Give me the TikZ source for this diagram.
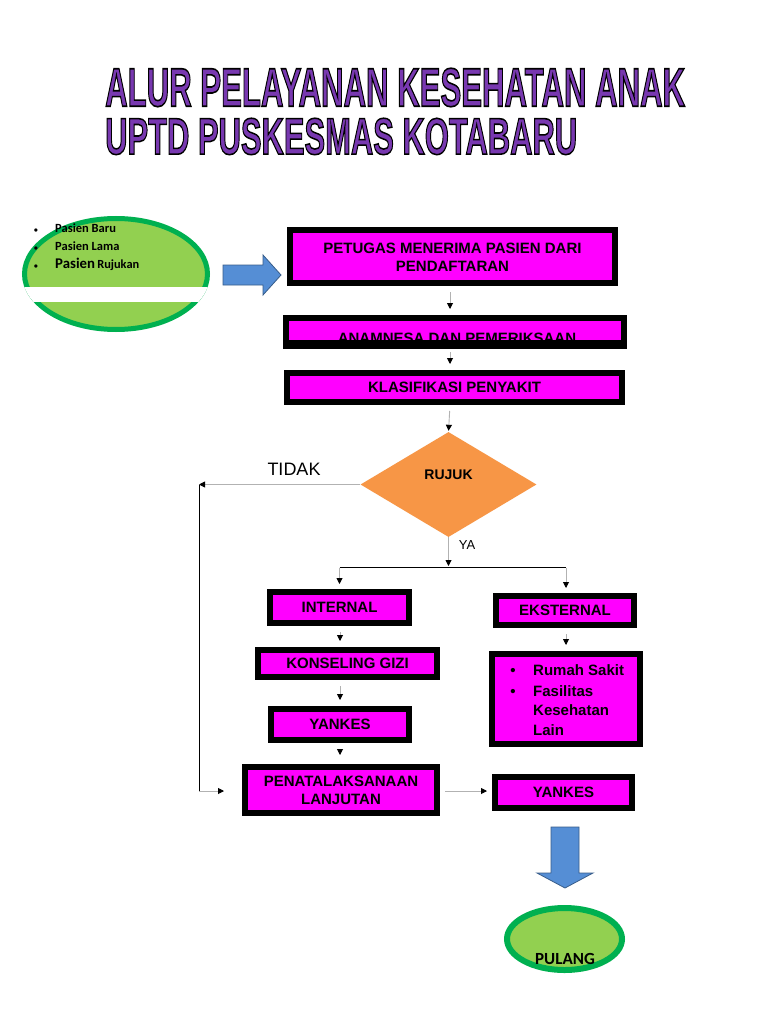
\documentclass[tikz,border=0pt]{standalone}
\usepackage{fontspec}
\setmainfont{Liberation Sans}
\newfontfamily\calib{Carlito}
\newfontfamily\ttlfont[FakeBold=3]{Liberation Sans}
\usetikzlibrary{arrows.meta,shapes.geometric}
\definecolor{mag}{RGB}{255,0,255}
\definecolor{ttl}{RGB}{120,56,176}
\definecolor{lgreen}{RGB}{146,208,80}
\definecolor{dgreen}{RGB}{0,176,80}
\definecolor{blu}{RGB}{85,142,213}
\definecolor{bludark}{RGB}{56,93,138}
\definecolor{orng}{RGB}{247,150,70}
\newcommand\blackstroke{\special{pdf:literal direct 0 0 0 RG}}
\begin{document}
\begin{tikzpicture}[x=1pt,y=-1pt,
  box/.style={draw=black,line width=6pt,fill=mag,inner sep=0pt,align=center,
    font=\bfseries\fontsize{15}{18}\selectfont},
  conn/.style={draw=gray!60,line width=0.9pt,-{Triangle[length=6pt,width=6pt,color=black]}},
  bline/.style={draw=black,line width=1pt},
  lbl/.style={inner sep=0pt},
  bigarrow/.style={fill=blu,draw=bludark,line width=0.8pt},
  oval/.style={ellipse,draw=dgreen,fill=lgreen,inner sep=0pt},
]
\useasboundingbox (0,0) rectangle (768,1024);
\fill[white] (0,0) rectangle (768,1024);

% ---- title (purple fill, black stroke)
\node[lbl,anchor=north west,text=ttl] (t1) at (105,68)
  {\resizebox{580pt}{38pt}{\blackstroke\ttlfont\bfseries ALUR PELAYANAN KESEHATAN ANAK}};
\node[lbl,anchor=north west,text=ttl] (t2) at (105,118)
  {\resizebox{472pt}{36pt}{\blackstroke\ttlfont\bfseries UPTD PUSKESMAS KOTABARU}};

% ---- source ellipse
\node[oval,line width=5pt,minimum width=183pt,minimum height=111pt] (src) at (116,274) {};
\begin{scope}
  \clip (116,274) ellipse [x radius=94, y radius=58];
  \fill[white] (0,287) rectangle (768,302);
\end{scope}
\node[lbl,anchor=base] (b1) at (36,235) {\fontsize{12}{12}\selectfont\textbullet};
\node[lbl,anchor=base] (b2) at (36,252) {\fontsize{12}{12}\selectfont\textbullet};
\node[lbl,anchor=base] (b3) at (36,270) {\fontsize{12}{12}\selectfont\textbullet};
\node[lbl,anchor=base west] (s1) at (55,233) {\calib\bfseries\fontsize{12.5}{14}\selectfont Pasien Baru};
\node[lbl,anchor=base west] (s2) at (55,251) {\calib\bfseries\fontsize{12.5}{14}\selectfont Pasien Lama};
\node[lbl,anchor=base west] (s3) at (55,268) {\calib\bfseries{\fontsize{14.8}{16}\selectfont Pasien} \fontsize{12.4}{14}\selectfont Rujukan};

% ---- right block arrow
\draw[bigarrow] (223,265) -- (263,265) -- (263,255) -- (281,275) -- (263,295) -- (263,285) -- (223,285) -- cycle;

% ---- boxes
\node[box,minimum width=325pt,minimum height=53pt] (p1) at (452.5,256.5)
  {\rule{0pt}{11pt}PETUGAS MENERIMA PASIEN DARI\\PENDAFTARAN};
\node[box,minimum width=338pt,minimum height=25pt] (p2) at (455,330.5) {};
\begin{scope}
  \clip (286,320) rectangle (624,339.5);
  \node[lbl,anchor=base,font=\bfseries\fontsize{15}{18}\selectfont] (p2t) at (457,343) {ANAMNESA DAN PEMERIKSAAN};
\end{scope}
\draw[line width=6pt] (p2.south west) -- (p2.south east);
\node[box,minimum width=335pt,minimum height=29pt] (p3) at (454.5,387.5) {KLASIFIKASI PENYAKIT};

\node[diamond,fill=orng,minimum width=176pt,minimum height=105pt,inner sep=0pt] (rj) at (448.5,484.5) {};
\node[lbl,font=\bfseries\fontsize{14}{16}\selectfont] (rjt) at (448.5,474.5) {RUJUK};

\node[box,minimum width=139pt,minimum height=31pt] (int) at (339.5,607.5) {INTERNAL};
\node[box,minimum width=138pt,minimum height=29pt] (ext) at (565,610.5) {EKSTERNAL};
\node[box,minimum width=179pt,minimum height=27pt] (ks) at (347.5,663.5) {KONSELING GIZI};
\node[box,minimum width=138pt,minimum height=31pt] (y1) at (340,724.5) {YANKES};
\node[box,minimum width=148pt,minimum height=90pt] (rs) at (566,699) {};
\node[box,minimum width=192pt,minimum height=46pt] (pen) at (341,790)
  {\rule{0pt}{11pt}PENATALAKSANAAN\\LANJUTAN};
\node[box,minimum width=137pt,minimum height=31pt] (y2) at (563.5,792.5) {YANKES};

% rumah sakit items
\begin{scope}[every node/.style={lbl,font=\bfseries\fontsize{15}{18}\selectfont}]
  \node[anchor=base] (r1b) at (513,675) {\textbullet};
  \node[anchor=base] (r2b) at (513,696) {\textbullet};
  \node[anchor=base west] (r1) at (533,675) {Rumah Sakit};
  \node[anchor=base west] (r2) at (533,696) {Fasilitas};
  \node[anchor=base west] (r3) at (533,715) {Kesehatan};
  \node[anchor=base west] (r4) at (533,735) {Lain};
\end{scope}

% ---- connectors
\coordinate (cx) at (450,0);
\draw[conn,shorten <=6pt,shorten >=6pt] (cx |- p1.south) -- (cx |- p2.north);
\draw[conn,shorten <=6pt,shorten >=6pt] (cx |- p2.south) -- (cx |- p3.north);
\draw[conn,shorten <=6pt,shorten >=1pt] (cx |- p3.south) -- (rj.north);

\coordinate (tl) at (199,484.5);
\coordinate (bl) at (199,791);
\coordinate (pe) at (224,791);
\draw[conn] (rj.west) -- (tl);
\draw[bline,line width=0.9pt] (tl) -- (bl);
\draw[conn] (bl) -- (pe);
\node[lbl,font=\fontsize{18}{20}\selectfont] (tidak) at (294,469) {TIDAK};

\coordinate (ya) at (448.5,566);
\draw[conn] (rj.south) -- (ya);
\node[lbl,font=\fontsize{13}{15}\selectfont] (yat) at (467,545) {YA};

\coordinate (hl) at (339.5,567.5);
\coordinate (hr) at (566,567.5);
\draw[bline] (hl) -- (hr);
\draw[conn,shorten >=5pt] (hl) -- (hl |- int.north);
\draw[conn,shorten >=5pt] (hr) -- (hr |- ext.north);

\coordinate (c1) at (340,0);
\draw[conn,shorten <=6pt,shorten >=6pt] (c1 |- int.south) -- (c1 |- ks.north);
\draw[conn,shorten <=6pt,shorten >=6pt] (c1 |- ks.south) -- (c1 |- y1.north);
\draw[conn,shorten <=6pt,shorten >=9pt] (c1 |- y1.south) -- (c1 |- pen.north);
\draw[conn,shorten <=6pt,shorten >=6pt] (hr |- ext.south) -- (hr |- rs.north);

\coordinate (ry) at (0,791);
\draw[conn,shorten <=5pt,shorten >=5pt] (pen.east |- ry) -- (y2.west |- ry);

% ---- down block arrow and end
\draw[bigarrow] (551,827) -- (579,827) -- (579,873) -- (593,873) -- (565,888) -- (537,873) -- (551,873) -- cycle;
\node[oval,line width=6pt,minimum width=115pt,minimum height=62pt] (pul) at (564.5,939) {};
\node[lbl,font=\calib\bfseries\fontsize{17}{18}\selectfont] (pult) at (565,959) {PULANG};
\end{tikzpicture}
\end{document}
